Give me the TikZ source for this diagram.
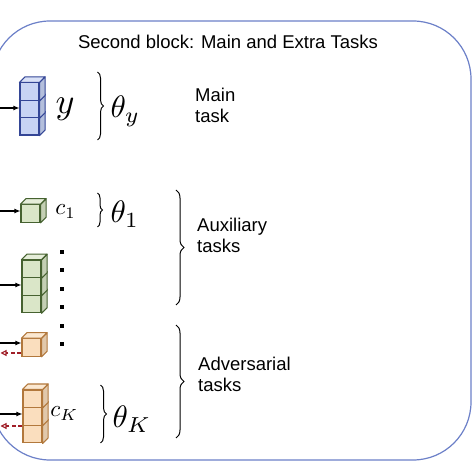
\documentclass[tikz,border=0pt]{standalone}
\usepackage[no-math]{fontspec}
\newfontfamily\helv{Liberation Sans}
\usepackage{tikz}
\usetikzlibrary{arrows.meta,positioning,calc,decorations.pathreplacing}
\definecolor{bluefill}{RGB}{200,212,244}
\definecolor{bluedraw}{RGB}{52,70,150}
\definecolor{greenfill}{RGB}{218,230,200}
\definecolor{greendraw}{RGB}{70,98,48}
\definecolor{orangefill}{RGB}{250,222,190}
\definecolor{orangedraw}{RGB}{178,120,60}
\definecolor{boxline}{RGB}{108,128,200}
\definecolor{backred}{RGB}{160,30,40}

\begin{document}
\begin{tikzpicture}[x=1pt,y=1pt,
  cube/.style={draw=#1draw,fill=#1fill,line width=1.1pt,
    minimum width=19pt,minimum height=17.5pt,inner sep=0pt},
  inarrow/.style={-{Latex[length=6pt,width=5pt]},line width=1.1pt},
  backarrow/.style={-{Triangle[open,length=6pt,width=6pt]},backred,
    line width=1.1pt,dash pattern=on 4pt off 2.5pt},
  brc/.style={decorate,decoration={brace,amplitude=#1},line width=1pt},
  txt/.style={font=\helv\fontsize{18.5}{21.5}\selectfont,align=left,inner sep=0pt},
  mlbl/.style={inner sep=0pt,anchor=base west}]
\useasboundingbox (0,0) rectangle (474,474);
\clip (0,0) rectangle (474,474);
% Outer block
\draw[boxline,line width=1.2pt,rounded corners=58pt] (-8,14) rectangle (471,453);
\node[txt,anchor=base] (title) at (228,425) {Second block: Main and Extra Tasks};
% Cubes, listed bottom to top
\def\d{5.5}
\foreach \n/\cx/\cy/\col in {y1/29.5/347.7/blue,y2/29.5/365/blue,y3/29.5/382.3/blue,
    g0/30.5/260.5/green,
    g1/31.5/170/green,g2/31.5/187.5/green,g3/31.5/205/green,
    o0/31.5/126.5/orange,
    o1/32.5/39.8/orange,o2/32.5/57.5/orange,o3/32.5/75.2/orange} {
  \node[cube=\col] (\n) at (\cx,\cy) {};
  \draw[draw=\col draw,fill=\col fill!90!black,line width=1.1pt,line join=round]
    (\n.north east) -- ++(\d,\d) -- ([shift={(\d,\d)}]\n.south east) -- (\n.south east) -- cycle;
  \draw[draw=\col draw,fill=\col fill!70!white,line width=1.1pt,line join=round]
    (\n.north west) -- ++(\d,\d) -- ([shift={(\d,\d)}]\n.north east) -- (\n.north east) -- cycle;
}
% Inputs and adversarial gradients
\coordinate (iny) at (-10,366);
\coordinate (ing0) at (-10,263);
\coordinate (ing2) at (-10,189);
\coordinate (ino0) at (-10,131);
\coordinate (outo0) at (0.5,121);
\coordinate (ino2) at (-10,60);
\coordinate (outo2) at (0.5,48);
\draw[inarrow] (iny) -- (iny -| y2.west);
\draw[inarrow] (ing0) -- (ing0 -| g0.west);
\draw[inarrow] (ing2) -- (ing2 -| g2.west);
\draw[inarrow] (ino0) -- (ino0 -| o0.west);
\draw[inarrow] (ino2) -- (ino2 -| o2.west);
\draw[backarrow] (outo0 -| o0.west) -- (outo0);
\draw[backarrow] (outo2 -| o2.west) -- (outo2);
% Dots between the extra tasks
\foreach \i in {0,...,5}
  \fill ({60},{224-18.5*\i}) rectangle ++(4,-4);
% Output labels and parameters
\node[mlbl,scale=3.6] (ylbl) at (55,360.5) {$y$};
\node[mlbl,scale=2.3] (c1lbl) at (55,259) {$c_1$};
\node[mlbl,scale=2.3] (cklbl) at (50,57) {$c_K$};
\draw[brc=6pt] (97.5,402) -- (97.5,334);
\draw[brc=5pt] (97.5,281) -- (97.5,247);
\draw[brc=6pt] (100.5,89) -- (100.5,31);
\node[mlbl,scale=3.1] (thy) at (110,356) {$\theta_y$};
\node[mlbl,scale=3.1] (th1) at (110,251) {$\theta_1$};
\node[mlbl,scale=3.1] (thk) at (112,46) {$\theta_K$};
% Task groups
\draw[brc=8pt] (176,284) -- (176,169);
\draw[brc=8pt] (176,149) -- (176,36);
\node[txt,anchor=base west] (maintxt) at (195,351) {Main\\task};
\node[txt,anchor=base west] (auxtxt) at (197,221) {Auxiliary\\tasks};
\node[txt,anchor=base west] (advtxt) at (198,82) {Adversarial\\tasks};
\end{tikzpicture}
\end{document}
